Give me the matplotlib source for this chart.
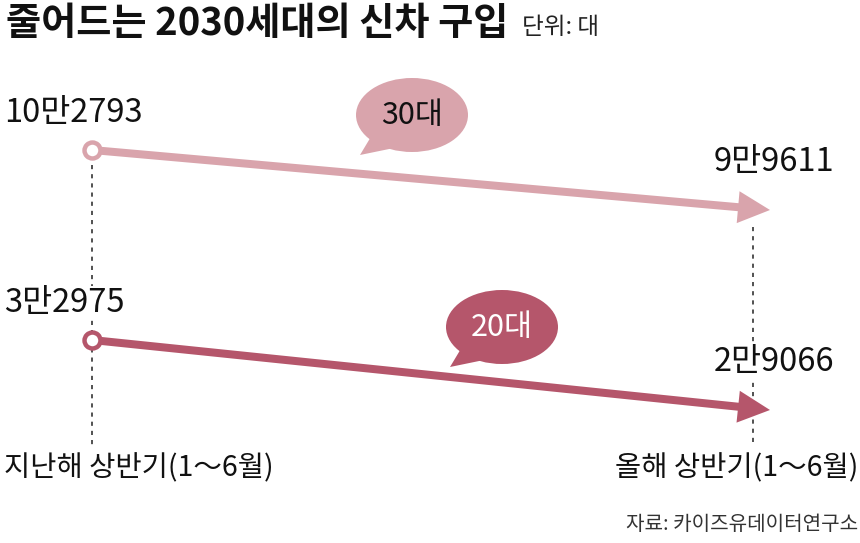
import matplotlib
matplotlib.use("Agg")
import matplotlib.pyplot as plt
from matplotlib.patches import Ellipse, Polygon, FancyArrow

plt.rcParams['font.family'] = ['Noto Sans CJK KR', 'DejaVu Sans']

# 데이터
title = "줄어드는 2030세대의 신차 구입"
unit = "단위: 대"
source = "자료: 카이즈유데이터연구소"
periods = ["지난해 상반기(1～6월)", "올해 상반기(1～6월)"]
groups = ["30대", "20대"]
start_labels = ["10만2793", "3만2975"]
end_labels = ["9만9611", "2만9066"]
values_start = [102793, 32975]
values_end = [99611, 29066]

# 레이아웃 (픽셀 좌표)
colors = ["#d9a4ac", "#b5566b"]
text_colors = ["#111111", "#ffffff"]
x_start, x_end = 92, 770
row_y = [150, 340]          # 시작점 y
drop = [60, 70]             # 끝점까지 내려가는 양 (도식)
bubble_xy = [(412, 115), (502, 327)]

fig = plt.figure(figsize=(8.6, 5.43), dpi=100)
ax = fig.add_axes([0, 0, 1, 1])
ax.set_xlim(0, 860)
ax.set_ylim(543, 0)
ax.axis("off")

# 제목
ax.text(6, 24, title, fontsize=27.5, fontweight="bold", ha="left", va="center", color="#111")
ax.text(522, 28, unit, fontsize=17, ha="left", va="center", color="#222")

# 점선
ax.plot([x_start, x_start], [165, 445], ls=(0, (2.5, 3)), lw=1.2, color="#333", zorder=1)
ax.plot([753, 753], [227, 445], ls=(0, (2.5, 3)), lw=1.2, color="#333", zorder=1)

for i in range(2):
    y0 = row_y[i]
    y1 = y0 + drop[i]
    c = colors[i]
    arr = FancyArrow(x_start, y0, x_end - x_start, y1 - y0, width=8, head_width=32,
                     head_length=32, length_includes_head=True, color=c, lw=0, zorder=3)
    ax.add_patch(arr)
    ax.plot([x_start], [y0], "o", ms=11.5, mfc="white", mec=c, mew=3.2, zorder=4)

    ax.text(4, y0 - 37, start_labels[i], fontsize=23.5, ha="left", va="center",
            color="#111", zorder=5, bbox=dict(fc="white", ec="none", pad=1))
    ax.text(834, y1 - 48, end_labels[i], fontsize=23.5, ha="right", va="center",
            color="#111", zorder=5, bbox=dict(fc="white", ec="none", pad=1))

    bx, by = bubble_xy[i]
    ax.add_patch(Ellipse((bx, by), 112, 74, fc=c, ec="none", zorder=3))
    ax.add_patch(Polygon([(bx - 40, by + 20), (bx - 52, by + 40), (bx - 18, by + 33)],
                         closed=True, fc=c, ec="none", zorder=3))
    ax.text(bx, by, groups[i], fontsize=22, ha="center", va="center",
            color=text_colors[i], zorder=5)

# 기간 라벨
ax.text(4, 468, periods[0], fontsize=20.5, ha="left", va="center", color="#111",
        bbox=dict(fc="white", ec="none", pad=1), zorder=5)
ax.text(858, 468, periods[1], fontsize=20.5, ha="right", va="center", color="#111",
        bbox=dict(fc="white", ec="none", pad=1), zorder=5)

ax.text(858, 525, source, fontsize=14.5, ha="right", va="center", color="#333")

fig.savefig("out.png", dpi=100)
